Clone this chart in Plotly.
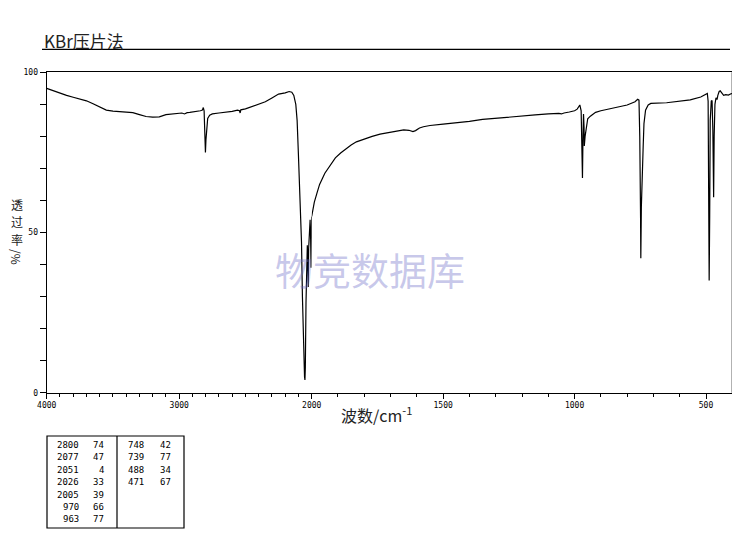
import plotly.graph_objects as go

# The page body adds an 8 px margin, so the figure is sized to fill the rest of the window
OFF = 8
W, H = 740 - OFF, 539 - OFF

# ---------------- data ----------------
wavenumber = [
    4000, 3950, 3900, 3850, 3800, 3750, 3700, 3650, 3600, 3550, 3500, 3450, 3400, 3350,
    3300, 3250, 3200, 3150, 3100, 3050, 3000, 2980, 2960, 2940, 2920, 2900, 2880, 2860,
    2840, 2825, 2818, 2812, 2806, 2802, 2798, 2792, 2785, 2770, 2750, 2700, 2650, 2600,
    2560, 2545, 2540, 2535, 2500, 2450, 2400, 2350, 2300, 2250, 2200, 2170, 2150, 2135,
    2120, 2110, 2100, 2090, 2080, 2077, 2070, 2060, 2054, 2051, 2048, 2043, 2038, 2033,
    2029, 2026, 2023, 2018, 2012, 2008, 2005, 2002, 2000,
    1990, 1980, 1970, 1950, 1930, 1910, 1890, 1870, 1850, 1830, 1800, 1770, 1740, 1710,
    1680, 1650, 1630, 1615, 1605, 1590, 1575, 1550, 1500, 1450, 1400, 1350, 1300, 1250,
    1200, 1150, 1100, 1060, 1050, 1040, 1020, 1000, 990, 980, 975, 972, 970, 968, 966,
    964, 963, 960, 955, 950, 940, 920, 900, 850, 800, 770, 760, 755, 752, 749, 748, 746,
    742, 739, 736, 730, 720, 710, 650, 600, 560, 520, 500, 495, 492, 489, 488, 486, 484,
    480, 477, 474, 471, 469, 466, 462, 458, 455, 450, 446, 440, 433, 425, 415, 405, 400,
]
transmittance = [
    95.0, 94.2, 93.4, 92.8, 92.2, 91.7, 91.1, 90.2, 89.3, 88.2, 87.9, 87.8, 87.6, 87.4,
    86.8, 86.2, 86.0, 86.1, 86.8, 87.0, 87.2, 87.3, 87.0, 87.4, 87.5, 87.6, 87.6, 87.7,
    88.0, 88.2, 89.0, 88.0, 82.0, 75.0, 79.0, 84.0, 85.6, 86.6, 87.0, 87.3, 87.5, 87.8,
    88.2, 88.0, 87.3, 88.3, 88.6, 89.3, 90.0, 90.8, 92.0, 93.2, 93.6, 94.0, 93.8, 92.8,
    90.0, 85.0, 74.0, 62.0, 50.0, 47.0, 30.0, 10.0, 5.0, 4.0, 8.0, 28.0, 40.0, 46.0,
    40.0, 33.0, 45.0, 52.0, 54.0, 48.0, 39.0, 50.0, 55.0,
    59.5, 62.3, 65.0, 68.5, 71.0, 73.3, 74.8, 76.2, 77.3, 78.3, 79.2, 80.0, 80.7, 81.2,
    81.6, 82.0, 81.9, 81.5, 81.8, 82.6, 83.0, 83.4, 83.8, 84.2, 84.7, 85.3, 85.7, 86.0,
    86.4, 86.7, 87.0, 87.2, 87.0, 87.3, 87.6, 88.0, 88.5, 89.8, 88.0, 75.0, 67.0, 80.0, 87.0,
    83.0, 77.0, 80.0, 83.0, 85.5, 86.3, 87.5, 88.0, 88.8, 89.8, 90.8, 91.6, 91.3, 80.0, 55.0, 42.0, 58.0,
    74.0, 77.0, 84.0, 88.2, 89.8, 90.3, 90.5, 91.0, 91.4, 92.3, 93.2, 93.4, 91.0, 60.0, 35.0, 55.0, 85.0,
    91.0, 91.2, 82.0, 61.0, 80.0, 90.0, 92.0, 91.5, 92.8, 94.0, 94.2, 93.5, 92.8, 93.0, 92.9, 93.3, 93.4,
]

peak_wn = [2800, 2077, 2051, 2026, 2005, 970, 963, 748, 739, 488, 471]
peak_T = [74, 47, 4, 33, 39, 66, 77, 42, 77, 34, 67]

x1_ticks = [4000, 3000, 2000]          # labelled ticks, high-wavenumber segment
x1_extra_ticks = [3500, 2500]          # long unlabelled ticks
x2_ticks = [1500, 1000, 500]           # labelled ticks, low-wavenumber segment
y_ticks = [0, 50, 100]

title_text = "KBr压片法"
xtitle_text = "波数/cm<sup>-1</sup>"
ytitle_chars = "透过率"
ytitle_unit = "/%"
watermark = "物竞数据库"


def px(x):
    # window pixel -> paper fraction
    return (x - OFF) / W


def py(y):
    return 1 - (y - OFF) / H


BREAK = 2000
left_w = [w for w in wavenumber if w >= BREAK]
left_t = [t for w, t in zip(wavenumber, transmittance) if w >= BREAK]
right_w = [w for w in wavenumber if w <= BREAK]
right_t = [t for w, t in zip(wavenumber, transmittance) if w <= BREAK]

fig = go.Figure()
line = dict(color="black", width=1.2)
fig.add_trace(go.Scatter(x=left_w, y=left_t, mode="lines", line=line, xaxis="x", yaxis="y",
                         hoverinfo="skip", showlegend=False))
fig.add_trace(go.Scatter(x=right_w, y=right_t, mode="lines", line=line, xaxis="x2", yaxis="y",
                         hoverinfo="skip", showlegend=False))

XL, XB, XR = 46.7, 311.7, 732.3
YT, YB = 72.3, 392.7

tickfont = dict(family="DejaVu Sans Mono", size=8, color="black")
minor = dict(tickmode="linear", tick0=0, dtick=100, ticklen=3, ticks="outside",
             tickcolor="black", tickwidth=1)
common_x = dict(showgrid=False, zeroline=False, showline=True, linecolor="black", linewidth=1.2,
                mirror=True, ticks="outside", ticklen=5, tickcolor="black", tickwidth=1,
                tickfont=tickfont, tickmode="array", minor=minor, automargin=False)
fig.update_layout(
    width=W, height=H,
    margin=dict(l=0, r=0, t=0, b=0, pad=0, autoexpand=False),
    paper_bgcolor="white", plot_bgcolor="white",
    xaxis=dict(domain=[px(XL), px(XB)], range=[4000, BREAK], anchor="y",
               tickvals=x1_ticks, ticktext=[str(v) for v in x1_ticks], **common_x),
    xaxis2=dict(domain=[px(XB), px(XR)], range=[BREAK, 400], anchor="y",
                tickvals=x2_ticks, ticktext=[str(v) for v in x2_ticks], **common_x),
    xaxis3=dict(domain=[px(XL), px(XB)], range=[4000, BREAK], anchor="y", overlaying="x",
                side="bottom", showgrid=False, zeroline=False, showline=False,
                ticks="outside", ticklen=5, tickcolor="black", tickwidth=1,
                tickmode="array", tickvals=x1_extra_ticks, showticklabels=False,
                automargin=False),
    yaxis=dict(domain=[py(YB), py(YT)], range=[0, 100], anchor="x", showgrid=False, zeroline=False,
               showline=True, linecolor="black", linewidth=1.2, ticks="outside", ticklen=6,
               tickcolor="black", tickwidth=1, tickmode="array", tickvals=y_ticks,
               ticktext=[str(v) for v in y_ticks], tickfont=tickfont, automargin=False,
               minor=dict(tickmode="linear", tick0=0, dtick=10, ticklen=6, ticks="outside",
                          tickcolor="black", tickwidth=1)),
)

shapes = [
    # right border of the plot frame
    dict(type="line", xref="x2 domain", yref="y domain", x0=1, x1=1, y0=0, y1=1,
         line=dict(color="black", width=1.2)),
    # title underline
    dict(type="line", xref="paper", yref="paper", x0=px(42), x1=px(730), y0=py(49.3), y1=py(49.3),
         line=dict(color="black", width=1.2)),
    # peak table
    dict(type="rect", xref="paper", yref="paper", x0=px(47), x1=px(184), y0=py(436), y1=py(528),
         line=dict(color="black", width=1.2)),
    dict(type="line", xref="paper", yref="paper", x0=px(117), x1=px(117), y0=py(436), y1=py(528),
         line=dict(color="black", width=1.2)),
]

cjk = "Noto Sans CJK SC"
ann = [
    dict(text=title_text, x=px(42), y=py(41), xanchor="left", yanchor="middle",
         font=dict(family=cjk, size=17, color="#222222")),
    dict(text=xtitle_text, x=px(376), y=py(414), xanchor="center", yanchor="middle",
         font=dict(family=cjk, size=16, color="#222222")),
    dict(text=ytitle_unit, x=px(17), y=py(257), xanchor="center", yanchor="middle", textangle=90,
         font=dict(family=cjk, size=12, color="#222222")),
    dict(text=watermark, x=px(370), y=py(268), xanchor="center", yanchor="middle",
         font=dict(family=cjk, size=38, color="rgba(110,110,200,0.38)")),
]
# vertical (stacked) y-axis title characters
for i, ch in enumerate(ytitle_chars):
    ann.append(dict(text=ch, x=px(17), y=py(204 + 17.5 * i), xanchor="center", yanchor="middle",
                    font=dict(family=cjk, size=12, color="#222222")))

# peak table: first 7 peaks in left column, rest in right column
tfont = dict(family="DejaVu Sans Mono", size=9, color="black")
row_y = [445 + 12.4 * i for i in range(7)]
for i, (w, t) in enumerate(zip(peak_wn, peak_T)):
    col = 0 if i < 7 else 1
    r = i if i < 7 else i - 7
    xw, xt = (81, 106) if col == 0 else (146, 173)
    ann.append(dict(text=str(w), x=px(xw), y=py(row_y[r]), xanchor="right", yanchor="middle",
                    font=tfont))
    ann.append(dict(text=str(t), x=px(xt), y=py(row_y[r]), xanchor="right", yanchor="middle",
                    font=tfont))

for a in ann:
    a["xref"] = "paper"
    a["yref"] = "paper"
    a["showarrow"] = False

fig.update_layout(shapes=shapes, annotations=ann)
fig.write_html("out.html")
